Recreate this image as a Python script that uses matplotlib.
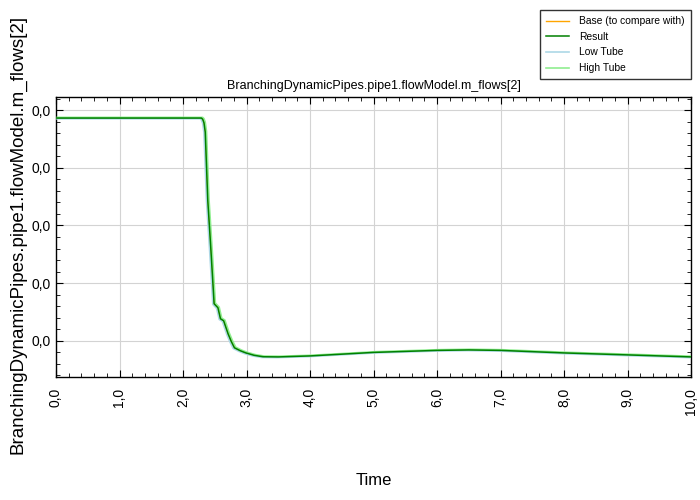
import numpy as np
import matplotlib.pyplot as plt
from matplotlib.ticker import MultipleLocator, AutoMinorLocator, FuncFormatter

plt.rcParams['font.family'] = ['Liberation Sans', 'DejaVu Sans']

# values
time = [0.0, 2.29, 2.31, 2.33, 2.35, 2.39, 2.44, 2.49, 2.55, 2.59, 2.64, 2.71,
        2.76, 2.81, 2.90, 2.99, 3.12, 3.26, 3.5, 4.0, 5.0, 6.0, 6.5, 7.0,
        8.0, 9.0, 10.0]
result = [0.004861, 0.004861, 0.004840, 0.004780, 0.004620, 0.003435,
          0.002565, 0.001643, 0.001574, 0.001383, 0.001348, 0.001122,
          0.000990, 0.000880, 0.000830, 0.000791, 0.000750, 0.000725,
          0.000722, 0.000739, 0.000800, 0.000835, 0.000843, 0.000835,
          0.000791, 0.000757, 0.000722]
low_tube = [v - 0.000012 for v in result]
high_tube = [v + 0.000012 for v in result]
base = result

title = "BranchingDynamicPipes.pipe1.flowModel.m_flows[2]"

fig = plt.figure(figsize=(7, 5), dpi=100)
ax = fig.add_axes([56/700, 1-377/500, 635/700, 280/500])

t2 = [x + 0.02 for x in time]
t1 = [x - 0.02 for x in time]
ax.plot(time, base, color='orange', lw=1, label='Base (to compare with)')
ax.plot(t1, low_tube, color='lightblue', lw=1.2, label='Low Tube', zorder=3)
ax.plot(t2, high_tube, color='lightgreen', lw=1.2, label='High Tube', zorder=3)
ax.plot(time, result, color='green', lw=1.1, label='Result', zorder=4)

ax.set_xlim(0, 10)
ax.set_ylim(0.000374, 0.005226)
ax.xaxis.set_major_locator(MultipleLocator(1))
ax.xaxis.set_minor_locator(AutoMinorLocator(5))
ax.yaxis.set_major_locator(MultipleLocator(0.001))
ax.yaxis.set_minor_locator(AutoMinorLocator(5))
fmt = FuncFormatter(lambda v, p: f"{v:.1f}".replace('.', ','))
ax.xaxis.set_major_formatter(fmt)
ax.yaxis.set_major_formatter(fmt)
ax.tick_params(which='both', direction='in', top=True, right=True, labelsize=10)
ax.tick_params(which='major', length=5)
ax.tick_params(which='minor', length=3)
ax.tick_params(axis='x', labelrotation=90, pad=8)
ax.grid(True, color='#d3d3d3', lw=0.8)
ax.set_axisbelow(True)
for s in ax.spines.values():
    s.set_linewidth(1)

ax.set_title(title, fontsize=9, pad=6)
ax.set_xlabel("Time", fontsize=12, labelpad=42)
ax.set_ylabel(title, fontsize=13.5)
ax.yaxis.set_label_coords(-0.047, 0.51)

h, l = ax.get_legend_handles_labels()
order = [0, 3, 1, 2]
leg = fig.legend([h[i] for i in order], [l[i] for i in order],
                 loc='upper right', bbox_to_anchor=(691/700, 1-10/500),
                 fontsize=7.4, frameon=True, fancybox=False, borderaxespad=0,
                 handlelength=2.2, labelspacing=0.55, borderpad=0.6,
                 handletextpad=1.0)
leg.get_frame().set_edgecolor('black')
leg.get_frame().set_linewidth(1)

fig.savefig("out.png", dpi=100)
